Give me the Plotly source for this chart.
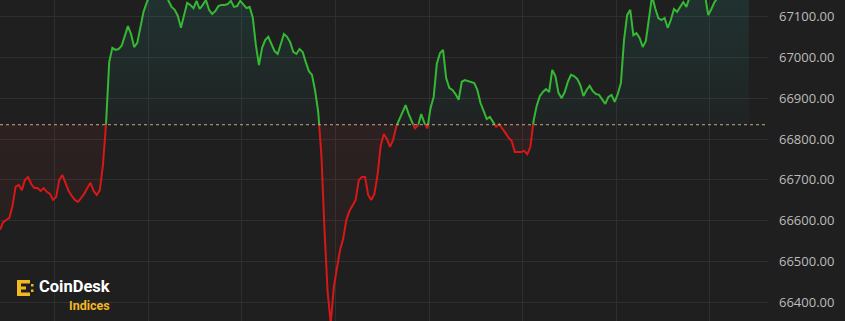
import numpy as np
import pandas as pd
import plotly.graph_objects as go

# ---- data ----
start_time = "2024-05-20 03:25"
step_minutes = 2
prices = [
    66578, 66597, 66602, 66607, 66636, 66683, 66688, 66675, 66700, 66707,
    66690, 66680, 66680, 66673, 66680, 66671, 66666, 66651, 66658, 66700,
    66712, 66690, 66673, 66661, 66651, 66646, 66656, 66666, 66680, 66693,
    66673, 66663, 66675, 66737, 66839, 66988, 67023, 67018, 67020, 67028,
    67052, 67076, 67057, 67025, 67035, 67072, 67111, 67133, 67152, 67164,
    67160, 67169, 67155, 67162, 67138, 67123, 67116, 67101, 67072, 67103,
    67133, 67128, 67120, 67138, 67118, 67128, 67140, 67116, 67106, 67113,
    67125, 67128, 67128, 67130, 67138, 67123, 67125, 67138, 67130, 67120,
    67123, 67098, 67030, 66981, 67023, 67042, 67050, 67032, 67015, 67008,
    67030, 67057, 67050, 67037, 67013, 67008, 67020, 67013, 66988, 66966,
    66957, 66918, 66866, 66761, 66578, 66426, 66350, 66438, 66485, 66529,
    66556, 66602, 66624, 66639, 66651, 66700, 66707, 66707, 66663, 66651,
    66666, 66712, 66783, 66812, 66800, 66781, 66798, 66830, 66849, 66864,
    66883, 66861, 66842, 66826, 66833, 66861, 66840, 66826, 66876, 66903,
    66984, 67010, 67018, 66949, 66925, 66920, 66910, 66896, 66940, 66944,
    66942, 66940, 66937, 66920, 66888, 66869, 66849, 66854, 66842, 66830,
    66836, 66826, 66815, 66803, 66795, 66768, 66768, 66768, 66771, 66763,
    66781, 66844, 66881, 66905, 66915, 66922, 66915, 66969, 66954, 66913,
    66900, 66915, 66940, 66957, 66954, 66947, 66932, 66905, 66920, 66930,
    66917, 66910, 66908, 66896, 66886, 66903, 66908, 66891, 66910, 66937,
    67042, 67103, 67116, 67054, 67059, 67047, 67025, 67040, 67103, 67150,
    67120, 67096, 67091, 67096, 67072, 67091, 67118, 67111, 67123, 67135,
    67123, 67147, 67160, 67169, 67155, 67164, 67150, 67103, 67118, 67135,
    67145, 67160, 67169, 67155, 67177, 67164, 67184, 67169, 67189, 67174,
    67179,
]
baseline = 66835
y_ticks = [66400, 66500, 66600, 66700, 66800, 66900, 67000, 67100]
y_range = [66355, 67140]
x_range = ["2024-05-20 03:25:00", "2024-05-20 11:37:18"]
grid_tick0 = "2024-05-20 04:00"

times = pd.date_range(start_time, periods=len(prices), freq=f"{step_minutes}min")

# insert baseline crossing points so colours switch exactly at the baseline
t_ns = times.asi8.astype(float)
v = np.array(prices, dtype=float)
ext_t, ext_v = [t_ns[0]], [v[0]]
for k in range(1, len(v)):
    a, b = v[k - 1] - baseline, v[k] - baseline
    if a * b < 0:
        f = a / (a - b)
        ext_t.append(t_ns[k - 1] + f * (t_ns[k] - t_ns[k - 1]))
        ext_v.append(baseline)
    ext_t.append(t_ns[k])
    ext_v.append(v[k])
ext_t = pd.to_datetime(np.array(ext_t).astype("int64"))
ext_v = np.array(ext_v)

upper = np.maximum(ext_v, baseline)
lower = np.minimum(ext_v, baseline)
green_y = [y if y >= baseline else None for y in ext_v]
red_y = [y if y <= baseline else None for y in ext_v]
base_y = [baseline] * len(ext_v)

BG = "#1f1f1f"
GRID = "#2f2f2f"
GREEN = "#35b935"
RED = "#d81818"

fig = go.Figure()
fig.add_trace(go.Scatter(x=ext_t, y=base_y, mode="lines", line=dict(width=0),
                         hoverinfo="skip", showlegend=False))
fig.add_trace(go.Scatter(x=ext_t, y=upper, mode="lines", line=dict(width=0),
                         fill="tonexty",
                         fillgradient=dict(type="vertical", start=baseline, stop=y_range[1],
                                           colorscale=[[0, "rgba(38,166,154,0.03)"],
                                                       [1, "rgba(38,166,154,0.14)"]]),
                         hoverinfo="skip", showlegend=False))
fig.add_trace(go.Scatter(x=ext_t, y=base_y, mode="lines", line=dict(width=0),
                         hoverinfo="skip", showlegend=False))
fig.add_trace(go.Scatter(x=ext_t, y=lower, mode="lines", line=dict(width=0),
                         fill="tonexty",
                         fillgradient=dict(type="vertical", start=y_range[0], stop=baseline,
                                           colorscale=[[0, "rgba(220,50,50,0.02)"],
                                                       [1, "rgba(220,50,50,0.075)"]]),
                         hoverinfo="skip", showlegend=False))
fig.add_trace(go.Scatter(x=ext_t, y=green_y, mode="lines",
                         line=dict(color=GREEN, width=2), connectgaps=False, showlegend=False))
fig.add_trace(go.Scatter(x=ext_t, y=red_y, mode="lines",
                         line=dict(color=RED, width=2), connectgaps=False, showlegend=False))

# dotted baseline
fig.add_shape(type="line", xref="paper", yref="y", x0=0, x1=1, y0=baseline, y1=baseline,
              line=dict(color="rgba(210,185,140,0.9)", width=1, dash="dot"), layer="above")

# CoinDesk logo (icon drawn with small shapes)
W, H = 768, 321
def px(x):
    return x / W
def py(y):
    return 1 - y / H
YEL = "#f2b824"
for (x0, y0, x1, y1) in [(17, 280, 21, 296), (17, 280, 30, 283.5), (17, 292.5, 30, 296),
                         (21, 286.5, 26, 289.5), (31, 284, 33.5, 286.5), (31, 289.5, 33.5, 292)]:
    fig.add_shape(type="rect", xref="paper", yref="paper", x0=px(x0), x1=px(x1),
                  y0=py(y1), y1=py(y0), fillcolor=YEL, line=dict(width=0), layer="above")
fig.add_annotation(xref="paper", yref="paper", x=px(38), y=py(286.5), xanchor="left",
                   yanchor="middle", text="<b>CoinDesk</b>", showarrow=False, borderpad=0,
                   font=dict(family="Roboto", size=16.5, color="#ffffff"))
fig.add_annotation(xref="paper", yref="paper", x=px(111), y=py(305), xanchor="right",
                   yanchor="middle", text="<b>Indices</b>", showarrow=False, borderpad=0,
                   font=dict(family="Roboto", size=12.5, color=YEL))

fig.update_layout(
    width=845, height=321,
    margin=dict(l=0, r=77, t=0, b=0),
    paper_bgcolor=BG, plot_bgcolor=BG,
    xaxis=dict(type="date", range=x_range, showticklabels=False, showgrid=True,
               gridcolor=GRID, gridwidth=1, dtick=3600000, tick0=grid_tick0,
               zeroline=False, showline=False, fixedrange=True),
    yaxis=dict(side="right", range=y_range, tickvals=y_ticks,
               ticktext=[f"{t:.2f}" for t in y_ticks], showgrid=True,
               gridcolor=GRID, gridwidth=1, zeroline=False, showline=False,
               ticks="", ticklabelstandoff=10,
               tickfont=dict(family="Open Sans", size=13, color="#bcbcbc"),
               fixedrange=True),
    hovermode=False,
)

fig.write_html("out.html", config={"displayModeBar": False})
